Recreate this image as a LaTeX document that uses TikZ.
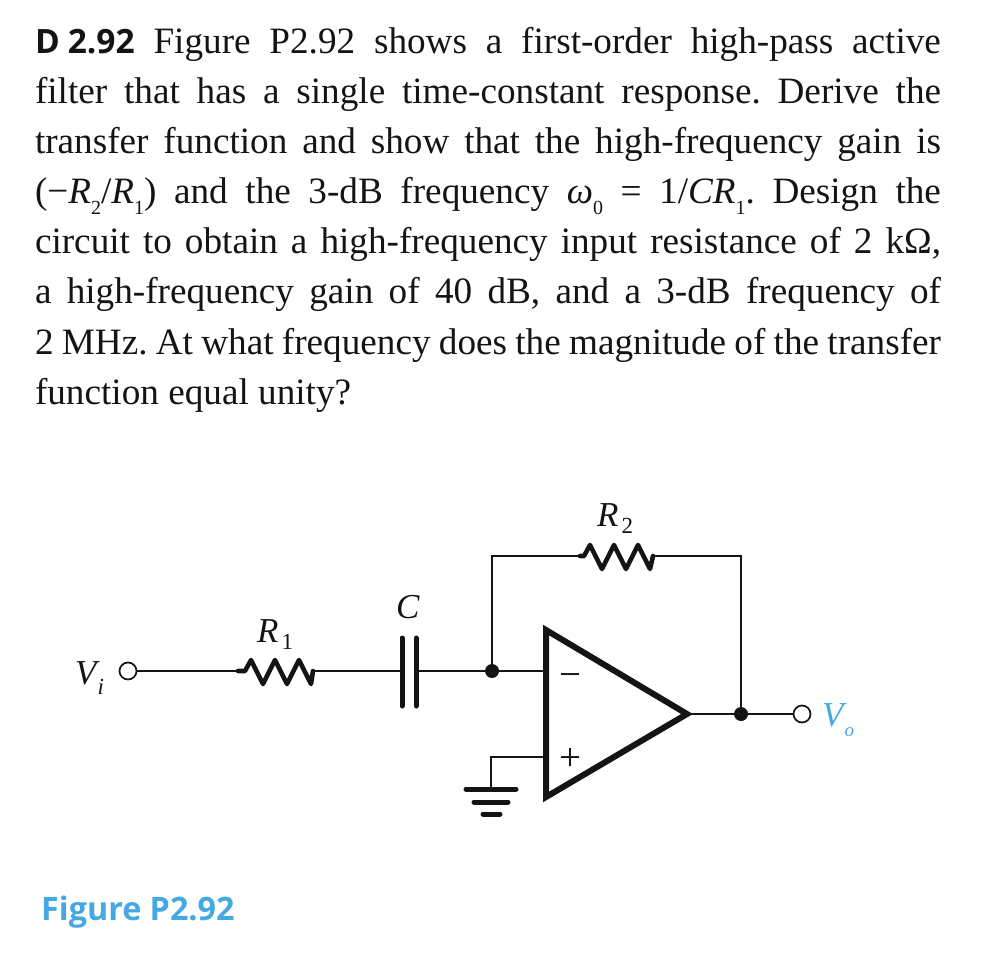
\documentclass[tikz,border=0pt]{standalone}
\usepackage{fontspec}
\setmainfont{Liberation Serif}
\newfontfamily\headsans{Open Sans}
\definecolor{figblue}{HTML}{45A8E0}
\definecolor{inkc}{HTML}{141414}
\newcommand{\lineat}[1]{\makebox[906pt][s]{#1}}
\newcommand{\sbs}[1]{\raisebox{-0.28em}{\fontsize{20}{20}\selectfont #1}}
\tikzset{
  x=1pt,y=-1pt,
  textline/.style={anchor=base west,inner sep=0pt,outer sep=0pt,font=\fontsize{37.2}{40}\selectfont\frenchspacing,text=inkc},
  wire/.style={draw=inkc,line width=1.7pt},
  thick part/.style={draw=inkc,line width=5pt,line cap=round},
  res/.style={draw=inkc,line width=4.6pt,line join=round,line cap=round},
  amp/.style={draw=inkc,line width=6pt,line join=miter},
  opendot/.style={circle,draw=inkc,fill=white,line width=1.7pt,minimum size=17pt,inner sep=0pt},
  soliddot/.style={circle,fill=inkc,minimum size=14pt,inner sep=0pt},
  lab/.style={inner sep=0pt,font=\fontsize{35}{35}\selectfont\itshape,text=inkc},
  sign/.style={anchor=base,inner sep=0pt,font=\fontsize{39}{39}\selectfont,text=inkc}
}
\begin{document}
\begin{tikzpicture}
\useasboundingbox (0,0) rectangle (984,957);
% problem text
\node[textline] (t1) at (35,54) {\lineat{\mbox{\headsans\bfseries\fontsize{33.5}{36}\selectfont D\kern8pt 2.92} Figure P2.92 shows a first-order high-pass active}};
\node[textline] (t2) at (35,104) {\lineat{filter that has a single time-constant response. Derive the}};
\node[textline] (t3) at (35,154) {\lineat{transfer function and show that the high-frequency gain is}};
\node[textline] (t4) at (35,204) {\lineat{(−\textit{R}\sbs{2}/\textit{R}\sbs{1}) and the 3-dB frequency \textit{ω}\sbs{0} = 1/\textit{CR}\sbs{1}. Design the}};
\node[textline] (t5) at (35,254) {\lineat{circuit to obtain a high-frequency input resistance of 2 kΩ,}};
\node[textline] (t6) at (35,304) {\lineat{a high-frequency gain of 40 dB, and a 3-dB frequency of}};
\node[textline] (t7) at (35,354) {\lineat{2 MHz. At what frequency does the magnitude of the transfer}};
\node[textline] (t8) at (35,404) {function equal unity?};
% circuit nodes
\node[opendot] (vi) at (128,671) {};
\coordinate (r1a) at (238,671);
\coordinate (r1b) at (313,671);
\coordinate (c1) at (402,671);
\coordinate (c2) at (416,671);
\coordinate (c1t) at (402,638);
\coordinate (c1b) at (402,706);
\coordinate (c2t) at (416,638);
\coordinate (c2b) at (416,706);
\coordinate (inm) at (546,671);
\coordinate (inp) at (546,757);
\coordinate (atop) at (546,630);
\coordinate (abot) at (546,797);
\coordinate (aout) at (687,714);
\coordinate (fbl) at (492,556);
\coordinate (fbr) at (741,556);
\coordinate (r2a) at (580,556);
\coordinate (r2b) at (653,556);
\coordinate (gc) at (491,757);
\coordinate (g0) at (491,789);
\coordinate (g1a) at (466,789);
\coordinate (g1b) at (516,789);
\coordinate (g2a) at (474,802);
\coordinate (g2b) at (508,802);
\coordinate (g3a) at (483,814);
\coordinate (g3b) at (500,814);
\node[soliddot] (jn) at (492,671) {};
\node[soliddot] (jo) at (741,714) {};
\node[opendot] (vo) at (802,714) {};
% wires
\draw[wire] (vi) -- (r1a);
\draw[wire] (r1b) -- (c1);
\draw[wire] (c2) -- (jn);
\draw[wire] (jn) -- (inm);
\draw[wire] (jn) -- (fbl) -- (r2a);
\draw[wire] (r2b) -- (fbr) -- (jo);
\draw[wire] (aout) -- (jo);
\draw[wire] (jo) -- (vo);
\draw[wire] (inp) -- (gc) -- (g0);
% resistors
\draw[res] (r1a) -- ++(7,0) -- ++(6,-11) -- ++(12,24) -- ++(12,-24) -- ++(12,24) -- ++(12,-24) -- ++(12,24) -- ++(2,-13);
\draw[res] (r2a) -- ++(4,0) -- ++(6,-11) -- ++(12,24) -- ++(12,-24) -- ++(12,24) -- ++(12,-24) -- ++(12,24) -- ++(3,-13);
% capacitor
\draw[thick part] (c1t) -- (c1b);
\draw[thick part] (c2t) -- (c2b);
% ground
\draw[thick part] (g1a) -- (g1b);
\draw[thick part] (g2a) -- (g2b);
\draw[thick part] (g3a) -- (g3b);
% op amp
\draw[amp] (atop) -- (aout) -- (abot) -- cycle;
\node[sign] (minus) at (570,687) {−};
\node[sign] (plus) at (570,770) {+};
% labels
\node[lab,anchor=base west] (lvi) at (75,684) {V\raisebox{-0.3em}{\kern1pt\fontsize{23}{23}\selectfont i}};
\node[lab,anchor=base west] (lr1) at (257,642) {R\raisebox{-0.2em}{\kern3pt\fontsize{23}{23}\selectfont\upshape 1}};
\node[lab,anchor=base west] (lc) at (396,618) {C};
\node[lab,anchor=base west] (lr2) at (597,526) {R\raisebox{-0.2em}{\kern3pt\fontsize{23}{23}\selectfont\upshape 2}};
\node[lab,anchor=base west,text=figblue] (lvo) at (822,726) {V\raisebox{-0.3em}{\kern1pt\fontsize{19}{19}\selectfont o}};
\node[inner sep=0pt,anchor=base west,text=figblue,font=\headsans\bfseries\fontsize{32.3}{32}\selectfont] (cap) at (41,920) {Figure P2.92};
\end{tikzpicture}
\end{document}
